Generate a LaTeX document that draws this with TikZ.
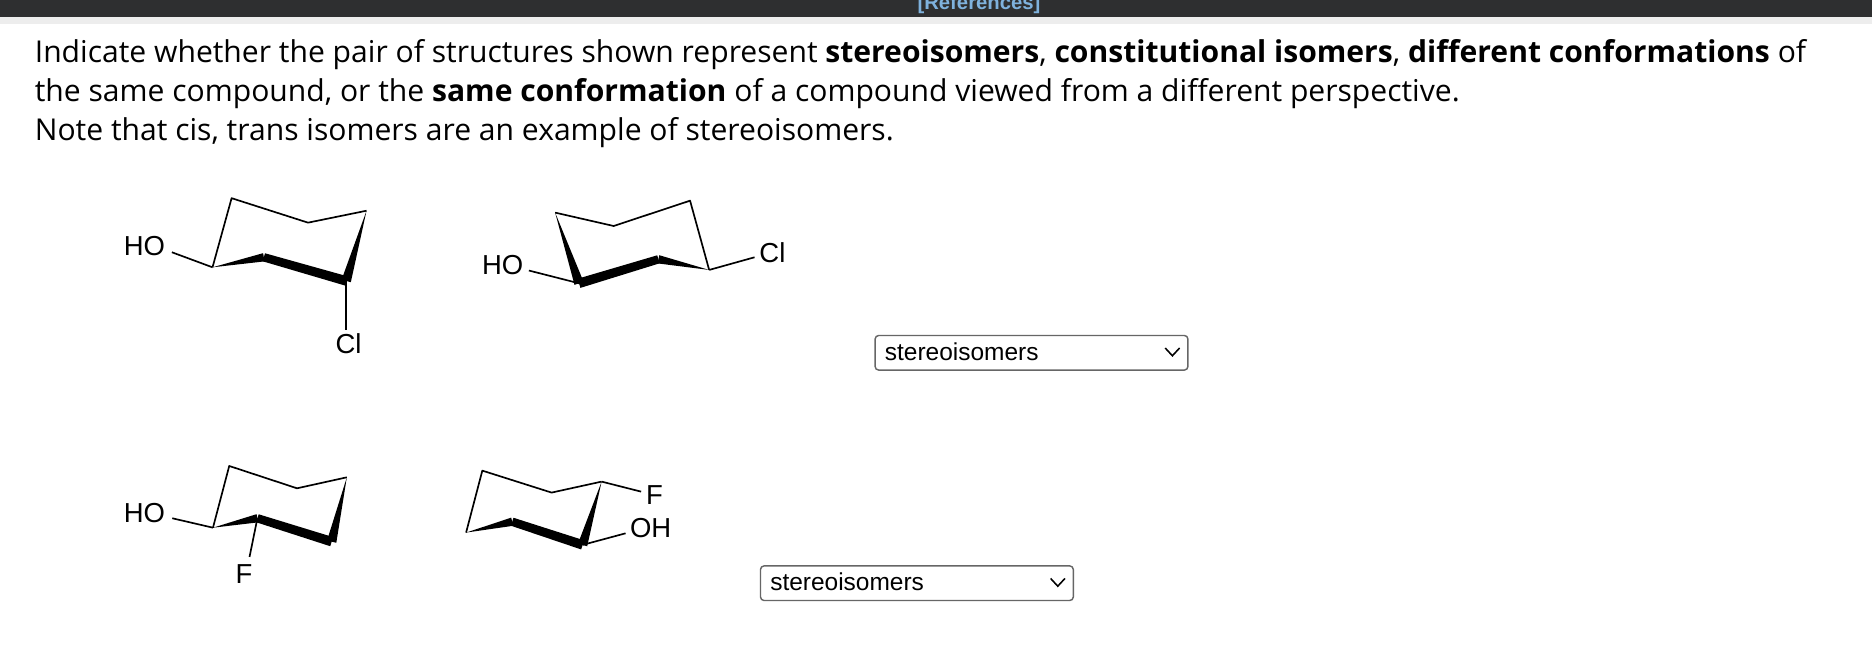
\documentclass[tikz,border=0pt]{standalone}
\usepackage{fontspec}
\setmainfont{Open Sans}
\newfontfamily\arial{Liberation Sans}
\usetikzlibrary{calc}
\definecolor{bar}{HTML}{2E2F30}
\definecolor{strip}{HTML}{EDEDED}
\definecolor{reflink}{HTML}{7FB2DD}
\newcommand{\wdg}[3]{\fill ($(#2)!#3!90:(#1)$) -- (#1) -- ($(#2)!#3!-90:(#1)$) -- cycle;}
\begin{document}
\begin{tikzpicture}[x=1pt,y=-1pt,
  bond/.style={line width=1.4pt,line join=round},
  atom/.style={font=\arial\fontsize{23}{23}\selectfont,inner sep=0pt},
  para/.style={font=\fontsize{25.2}{33}\selectfont,anchor=base west,inner sep=0pt},
  menu/.style={draw=gray!80!black,line width=1.2pt,rounded corners=3pt,fill=white},
  menutext/.style={font=\arial\fontsize{20.5}{20.5}\selectfont,anchor=base west,inner sep=0pt}]
\useasboundingbox (0,0) rectangle (1568,540);
\fill[white] (0,0) rectangle (1568,540);
\fill[strip] (0,14) rectangle (1568,20);
\fill[bar] (0,0) rectangle (1568,14);
\begin{scope}
\clip (0,0) rectangle (1568,14);
\node[font=\arial\bfseries\fontsize{17}{17}\selectfont,text=reflink,anchor=base,inner sep=0pt] (ref) at (820,8) {[References]};
\end{scope}
\node[para] (l1) at (29,52) {Indicate whether the pair of structures shown represent \textbf{stereoisomers}, \textbf{constitutional isomers}, \textbf{different conformations} of};
\node[para] (l2) at (29,85) {the same compound, or the \textbf{same conformation} of a compound viewed from a different perspective.};
\node[para] (l3) at (29,118) {Note that cis, trans isomers are an example of stereoisomers.};
% molecule 1
\coordinate (a1) at (194,166); \coordinate (a2) at (258,186.5); \coordinate (a3) at (307,176.5);
\coordinate (a4) at (290,235.3); \coordinate (a5) at (221,215.5); \coordinate (a6) at (178,223.9);
\draw[bond] (a6) -- (a1) -- (a2) -- (a3);
\wdg{a3}{a4}{4pt} \wdg{a6}{a5}{3.5pt}
\fill ($(a5)!3.5pt!90:(a4)$) -- ($(a5)!3.5pt!-90:(a4)$) -- ($(a4)!4pt!90:(a5)$) -- ($(a4)!4pt!-90:(a5)$) -- cycle;
\node[atom] (ho1) at (121,206) {HO};
\node[atom] (cl1) at (292,287.5) {Cl};
\coordinate (h1) at (144,211.3); \coordinate (c1) at (290,276.4);
\draw[bond] (h1) -- (a6); \draw[bond] (a4) -- (c1);
% molecule 2
\coordinate (b1) at (465,178.1); \coordinate (b2) at (514,189.3); \coordinate (b3) at (578,168.1);
\coordinate (b4) at (594,226.1); \coordinate (b5) at (551.5,217.2); \coordinate (b6) at (485,237.3);
\draw[bond] (b1) -- (b2) -- (b3) -- (b4);
\wdg{b1}{b6}{4pt} \wdg{b4}{b5}{3.5pt}
\fill ($(b6)!4pt!90:(b5)$) -- ($(b6)!4pt!-90:(b5)$) -- ($(b5)!3.5pt!90:(b6)$) -- ($(b5)!3.5pt!-90:(b6)$) -- cycle;
\node[atom] (ho2) at (421,221.9) {HO};
\node[atom] (cl2) at (647,212) {Cl};
\coordinate (h2) at (443,226.6); \coordinate (c2) at (632,215.5);
\draw[bond] (h2) -- (b6); \draw[bond] (b4) -- (c2);
% molecule 3
\coordinate (d1) at (192,390.3); \coordinate (d2) at (248.8,409); \coordinate (d3) at (290.5,399.8);
\coordinate (d4) at (277.8,453.7); \coordinate (d5) at (215.6,434.1); \coordinate (d6) at (178.4,442);
\draw[bond] (d6) -- (d1) -- (d2) -- (d3);
\wdg{d3}{d4}{4pt} \wdg{d6}{d5}{3.5pt}
\fill ($(d5)!3.5pt!90:(d4)$) -- ($(d5)!3.5pt!-90:(d4)$) -- ($(d4)!4pt!90:(d5)$) -- ($(d4)!4pt!-90:(d5)$) -- cycle;
\node[atom] (ho3) at (121,430) {HO};
\node[atom] (f3) at (204.3,481) {F};
\coordinate (h3) at (144.3,434.1); \coordinate (fb3) at (209,466.5);
\draw[bond] (h3) -- (d6); \draw[bond] (d5) -- (fb3);
% molecule 4
\coordinate (e1) at (404,394.2); \coordinate (e2) at (462,412.6); \coordinate (e3) at (503.9,403.4);
\coordinate (e4) at (488,456.4); \coordinate (e5) at (429,437); \coordinate (e6) at (390.4,446.1);
\draw[bond] (e6) -- (e1) -- (e2) -- (e3);
\wdg{e3}{e4}{4pt} \wdg{e6}{e5}{3.5pt}
\fill ($(e5)!3.5pt!90:(e4)$) -- ($(e5)!3.5pt!-90:(e4)$) -- ($(e4)!4pt!90:(e5)$) -- ($(e4)!4pt!-90:(e5)$) -- cycle;
\node[atom] (f4) at (548.3,414.6) {F};
\node[atom] (oh4) at (545,442.5) {OH};
\coordinate (fb4) at (537,411.8); \coordinate (ob4) at (524,446.7);
\draw[bond] (e3) -- (fb4); \draw[bond] (e4) -- (ob4);
% menus
\draw[menu] (733,281) rectangle (995,310);
\node[menutext] (m1) at (741,302) {stereoisomers};
\coordinate (v1a) at (976,291.5); \coordinate (v1b) at (982,298); \coordinate (v1c) at (988,291.5);
\draw[line width=1.3pt] (v1a) -- (v1b) -- (v1c);
\draw[menu] (637,474) rectangle (899,503);
\node[menutext] (m2) at (645,495) {stereoisomers};
\coordinate (v2a) at (880,484.5); \coordinate (v2b) at (886,491); \coordinate (v2c) at (892,484.5);
\draw[line width=1.3pt] (v2a) -- (v2b) -- (v2c);
\end{tikzpicture}
\end{document}
